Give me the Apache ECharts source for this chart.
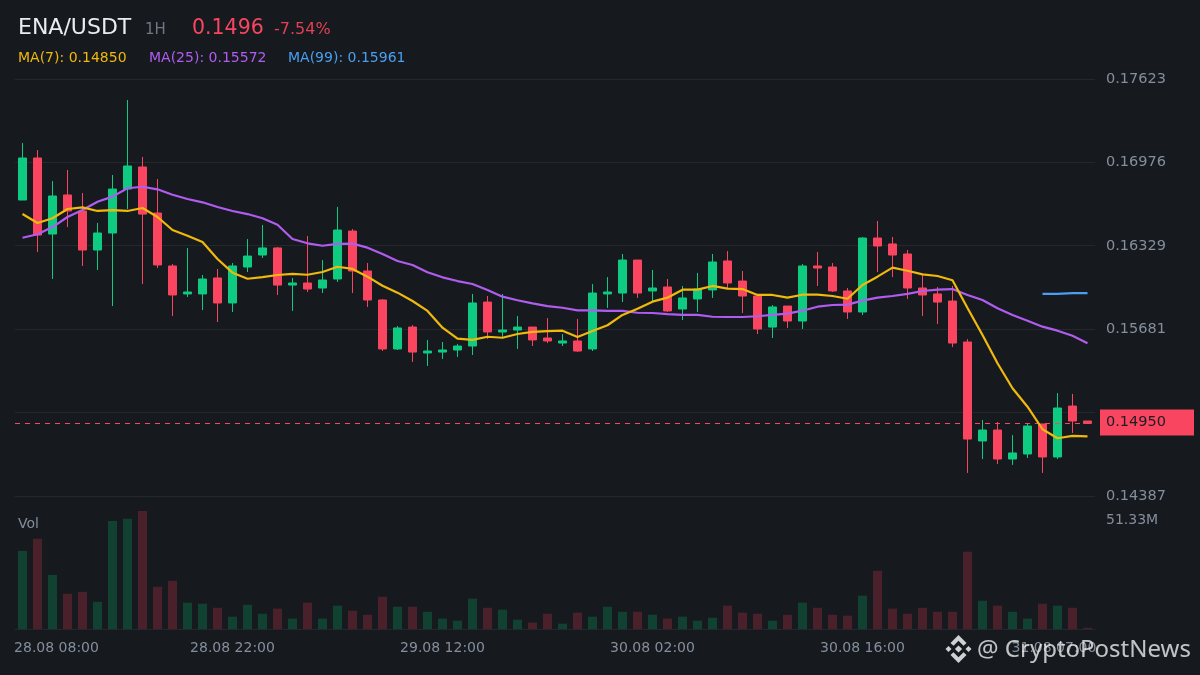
<!DOCTYPE html>
<html>
<head>
<meta charset="utf-8">
<style>html,body{margin:0;padding:0;background:#161a1e}#c{width:1200px;height:675px}</style>
<script src="https://cdn.jsdelivr.net/npm/echarts@6/dist/echarts.min.js"></script>
</head>
<body>
<div id="c"></div>
<script>
const categories = [
"28.08 08:00","28.08 09:00","28.08 10:00","28.08 11:00","28.08 12:00","28.08 13:00","28.08 14:00","28.08 15:00",
"28.08 16:00","28.08 17:00","28.08 18:00","28.08 19:00","28.08 20:00","28.08 21:00","28.08 22:00","28.08 23:00",
"29.08 00:00","29.08 01:00","29.08 02:00","29.08 03:00","29.08 04:00","29.08 05:00","29.08 06:00","29.08 07:00",
"29.08 08:00","29.08 09:00","29.08 10:00","29.08 11:00","29.08 12:00","29.08 13:00","29.08 14:00","29.08 15:00",
"29.08 16:00","29.08 17:00","29.08 18:00","29.08 19:00","29.08 20:00","29.08 21:00","29.08 22:00","29.08 23:00",
"30.08 00:00","30.08 01:00","30.08 02:00","30.08 03:00","30.08 04:00","30.08 05:00","30.08 06:00","30.08 07:00",
"30.08 08:00","30.08 09:00","30.08 10:00","30.08 11:00","30.08 12:00","30.08 13:00","30.08 14:00","30.08 15:00",
"30.08 16:00","30.08 17:00","30.08 18:00","30.08 19:00","30.08 20:00","30.08 21:00","30.08 22:00","30.08 23:00",
"31.08 00:00","31.08 01:00","31.08 02:00","31.08 03:00","31.08 04:00","31.08 05:00","31.08 06:00","31.08 07:00"];

// open, close, low, high
const candles = [
[.16684,.17010,.16684,.17126],[.17010,.16412,.16280,.17072],[.16420,.16715,.16071,.16831],[.16723,.16599,.16474,.16917],
[.16599,.16296,.16172,.16738],[.16296,.16428,.16141,.16506],[.16428,.16769,.15861,.16878],[.16769,.16948,.16614,.17460],
[.16940,.16575,.16032,.17018],[.16583,.16180,.16156,.16847],[.16172,.15947,.15784,.16187],[.15955,.15970,.15931,.16312],
[.15955,.16071,.15830,.16102],[.16079,.15885,.15737,.16149],[.15885,.16172,.15815,.16195],[.16164,.16249,.16125,.16381],
[.16257,.16312,.16234,.16490],[.16312,.16024,.15947,.16319],[.16024,.16040,.15823,.16079],[.16040,.15993,.15970,.16405],
[.16001,.16063,.15962,.16218],[.16071,.16451,.16048,.16630],[.16443,.16133,.15962,.16459],[.16133,.15908,.15854,.16195],
[.15908,.15528,.15512,.15916],[.15528,.15691,.15520,.15706],[.15698,.15504,.15427,.15714],[.15497,.15512,.15396,.15598],
[.15504,.15520,.15450,.15582],[.15520,.15551,.15466,.15567],[.15551,.15885,.15481,.15955],[.15892,.15660,.15605,.15939],
[.15660,.15675,.15621,.15955],[.15675,.15698,.15528,.15784],[.15698,.15598,.15551,.15698],[.15613,.15590,.15574,.15768],
[.15574,.15590,.15551,.15644],[.15590,.15512,.15504,.15761],[.15528,.15962,.15512,.16032],[.15955,.15970,.15846,.16086],
[.15962,.16218,.15892,.16265],[.16218,.15962,.15924,.16218],[.15978,.16001,.15892,.16141],[.16009,.15823,.15815,.16071],
[.15838,.15924,.15753,.16017],[.15916,.15993,.15815,.16118],[.15986,.16203,.15924,.16265],[.16211,.16040,.16001,.16288],
[.16055,.15939,.15807,.16133],[.15939,.15683,.15644,.15939],[.15698,.15854,.15613,.15869],[.15861,.15745,.15691,.15861],
[.15745,.16172,.15683,.16187],[.16172,.16156,.16017,.16280],[.16164,.15978,.15970,.16195],[.15978,.15815,.15761,.16001],
[.15815,.16389,.15792,.16397],[.16389,.16327,.16125,.16521],[.16343,.16257,.16086,.16397],[.16265,.16001,.15916,.16296],
[.16001,.15947,.15784,.16102],[.15955,.15892,.15722,.16009],[.15900,.15574,.15543,.16017],[.15582,.14829,.14566,.15605],
[.14814,.14899,.14674,.14977],[.14899,.14674,.14635,.14961],[.14674,.14721,.14628,.14860],[.14713,.14930,.14682,.14946],
[.14946,.14690,.14566,.14946],[.14690,.15070,.14674,.15186],[.15085,.14969,.14876,.15179],[.14969,.14950,.14946,.14969]];

const ma7 = [.16575,.16506,.16542,.16614,.16627,.16599,.16606,.16599,.16622,.16552,.16451,.16407,.16358,.16226,.16120,.16073,
.16086,.16102,.16110,.16104,.16125,.16166,.16149,.16089,.16019,.15965,.15900,.15823,.15693,.15608,.15598,.15623,
.15615,.15644,.15660,.15667,.15670,.15621,.15667,.15712,.15792,.15840,.15895,.15926,.15988,.15988,.16017,.15996,
.15993,.15947,.15947,.15926,.15949,.15949,.15939,.15918,.16024,.16089,.16159,.16135,.16107,.16094,.16061,.15846,
.15636,.15417,.15223,.15080,.14905,.14835,.14853,.14850];

const ma25 = [.16391,.16418,.16474,.16552,.16606,.16671,.16710,.16775,.16787,.16767,.16725,.16692,.16666,.16630,.16599,.16575,
.16542,.16492,.16381,.16348,.16329,.16343,.16345,.16314,.16265,.16211,.16180,.16123,.16084,.16055,.16032,.15986,
.15934,.15906,.15882,.15861,.15848,.15828,.15828,.15823,.15823,.15809,.15807,.15799,.15792,.15792,.15778,.15776,
.15776,.15782,.15792,.15802,.15825,.15856,.15869,.15872,.15903,.15926,.15939,.15955,.15978,.15988,.15993,.15947,
.15908,.15844,.15792,.15747,.15701,.15670,.15631,.15572];

const ma99Tail = [.15955,.15955,.15961,.15961];

const volumes = [36.8,42.5,25.5,16.6,17.5,12.8,50.9,51.9,55.6,19.9,22.7,12.4,11.9,10.0,5.8,11.4,
7.2,9.6,4.9,12.4,4.9,11.0,8.6,6.7,15.2,10.5,10.5,8.1,4.9,3.9,14.3,10.0,
9.1,4.4,3.0,7.2,2.5,7.7,5.8,10.5,8.1,8.1,6.7,4.9,5.8,3.9,5.3,11.0,
7.7,7.2,3.9,6.7,12.4,10.0,6.7,6.3,15.7,27.4,9.6,7.2,10.0,8.1,8.1,36.4,
13.3,11.0,8.1,4.9,11.9,11.0,10.0,0.6];

const priceTicks = [0.14387,0.15034,0.15681,0.16329,0.16976,0.17623];
const hiddenPriceTick = 0.15034;
const volTicks = [51.33];
const xTickIndex = [0,14,28,42,56,71];
const lastPrice = 0.14950;

const FONT = '"DejaVu Sans"';
const UP = '#0ecb81', DOWN = '#f9455f', GRAY = '#848e9c', BG = '#161a1e', GRID = '#24282c';
const UP_V = '#114231', DOWN_V = '#4a212b';

const ma99 = categories.map((_, i) => {
  const k = i - (categories.length - ma99Tail.length);
  return k >= 0 ? ma99Tail[k] : null;
});

function txt(x, y, text, size, fill, extra) {
  return { type: 'text', left: x, top: y, silent: true, z: 50,
    style: Object.assign({ text, x: 0, y: 0, fill, fontSize: size, fontFamily: FONT }, extra || {}) };
}

const logoFill = 'rgba(255,255,255,0.8)';
const cx = 958.5, cy = 649;
function poly(points) {
  return { type: 'polygon', silent: true, z: 60, shape: { points: points.map(p => [cx + p[0], cy + p[1]]) }, style: { fill: logoFill } };
}
const logo = [
  poly([[0,-3.6],[3.6,0],[0,3.6],[-3.6,0]]),
  poly([[-10,-3],[-7,0],[-10,3],[-13,0]]),
  poly([[10,-3],[13,0],[10,3],[7,0]]),
  poly([[0,-14],[8,-6],[5,-3.2],[0,-8.2],[-5,-3.2],[-8,-6]]),
  poly([[0,14],[8,6],[5,3.2],[0,8.2],[-5,3.2],[-8,6]])
];

const option = {
  backgroundColor: BG,
  animation: false,
  textStyle: { fontFamily: FONT },
  grid: [
    { left: 15, right: 105, top: 79, height: 417 },
    { left: 15, right: 105, top: 511, height: 118 }
  ],
  xAxis: [
    { type: 'category', gridIndex: 0, data: categories, boundaryGap: true,
      axisLine: { show: false }, axisTick: { show: false }, axisLabel: { show: false }, splitLine: { show: false } },
    { type: 'category', gridIndex: 1, data: categories, boundaryGap: true,
      axisLine: { show: true, lineStyle: { color: GRID, width: 1 } }, axisTick: { show: false }, splitLine: { show: false },
      axisLabel: {
        color: GRAY, fontSize: 14, fontFamily: FONT, margin: 12,
        interval: (i) => xTickIndex.includes(i),
        formatter: (v) => {
          if (v === categories[0]) return '{l|' + v + '}';
          if (v === categories[categories.length - 1]) return '{r|' + v + '}';
          return v;
        },
        rich: {
          l: { color: GRAY, fontSize: 14, fontFamily: FONT, padding: [0, 0, 0, 68] },
          r: { color: GRAY, fontSize: 14, fontFamily: FONT, padding: [0, 67, 0, 0] }
        }
      } }
  ],
  yAxis: [
    { type: 'value', gridIndex: 0, position: 'right', min: 0.14387, max: 0.17623, scale: true,
      axisLine: { show: false },
      axisTick: { show: false, customValues: priceTicks },
      splitLine: { show: true, lineStyle: { color: GRID, width: 1 } },
      axisLabel: { color: GRAY, fontSize: 14.5, fontFamily: FONT, margin: 11, customValues: priceTicks, padding: [4, 0, 0, 0],
        formatter: (v) => Math.abs(v - hiddenPriceTick) < 1e-7 ? '' : v.toFixed(5) } },
    { type: 'value', gridIndex: 1, position: 'right', min: 0, max: 55.6,
      axisLine: { show: false },
      axisTick: { show: false, customValues: volTicks },
      splitLine: { show: false },
      axisLabel: { color: GRAY, fontSize: 14, fontFamily: FONT, margin: 11, customValues: volTicks, padding: [4, 0, 0, 0],
        formatter: (v) => v.toFixed(2) + 'M' } }
  ],
  series: [
    { type: 'candlestick', xAxisIndex: 0, yAxisIndex: 0, data: candles, barWidth: 9,
      itemStyle: { color: UP, color0: DOWN, borderColor: UP, borderColor0: DOWN, borderWidth: 1 },
      markLine: { silent: true, symbol: 'none', animation: false, precision: 5,
        data: [{ yAxis: lastPrice }],
        lineStyle: { color: DOWN, type: [5, 5], width: 1 },
        label: { show: true, position: 'end', distance: 5, offset: [0, -1], formatter: () => lastPrice.toFixed(5),
          backgroundColor: DOWN, color: '#1b1e23', fontSize: 14.5, fontFamily: FONT,
          padding: [8, 6, 4, 6], width: 82, height: 14, align: 'left', lineHeight: 14 } } },
    { type: 'line', xAxisIndex: 0, yAxisIndex: 0, data: ma25, showSymbol: false, symbol: 'none',
      lineStyle: { color: '#b15cf0', width: 2.2 }, z: 5 },
    { type: 'line', xAxisIndex: 0, yAxisIndex: 0, data: ma7, showSymbol: false, symbol: 'none',
      lineStyle: { color: '#f0b90b', width: 2.2 }, z: 6 },
    { type: 'line', xAxisIndex: 0, yAxisIndex: 0, data: ma99, showSymbol: false, symbol: 'none', connectNulls: false,
      lineStyle: { color: '#4a9ff0', width: 2.2 }, z: 5 },
    { type: 'bar', xAxisIndex: 1, yAxisIndex: 1, barWidth: 9,
      data: volumes.map((v, i) => ({ value: v,
        itemStyle: { color: candles[i][1] >= candles[i][0] ? UP_V : DOWN_V } })) }
  ],
  graphic: [
    txt(18, 17, 'ENA/USDT', 22, '#eaecef'),
    txt(145, 23, '1H', 15, '#6f7782'),
    txt(192, 18, '0.1496', 20.5, DOWN),
    txt(274, 22, '-7.54%', 16, '#e33f55'),
    txt(18, 51, 'MA(7): 0.14850', 14, '#f0b90b'),
    txt(149, 51, 'MA(25): 0.15572', 14, '#b15cf0'),
    txt(288, 51, 'MA(99): 0.15961', 14, '#4a9ff0'),
    txt(18, 517, 'Vol', 14, GRAY),
    txt(977, 638, '@ CryptoPostNews', 24, 'rgba(255,255,255,0.74)', { fontFamily: '"Noto Sans"' })
  ].concat(logo)
};

echarts.init(document.getElementById('c'), null, { renderer: 'canvas' }).setOption(option);
</script>
</body>
</html>
